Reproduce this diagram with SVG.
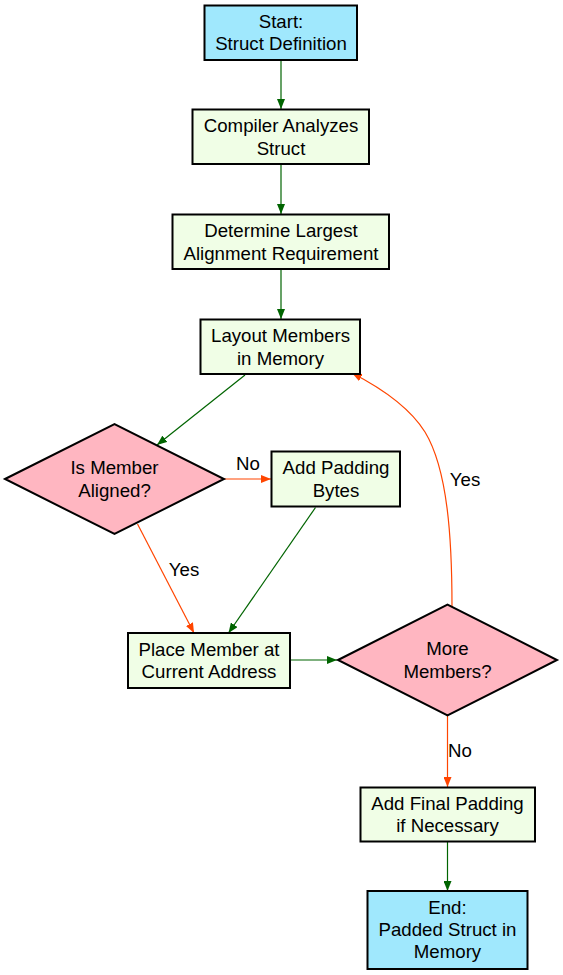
<svg xmlns="http://www.w3.org/2000/svg" width="563" height="975" viewBox="0 0 563 975">
<style>
.t{font-family:"Liberation Sans",Arial,sans-serif;font-size:18.67px;fill:#000;text-anchor:middle}
.term{fill:#A0E8FD;stroke:#000;stroke-width:2}
.proc{fill:#F0FEE6;stroke:#000;stroke-width:2}
.dec{fill:#FFB6C1;stroke:#000;stroke-width:2}
.eg{fill:none;stroke:#006400;stroke-width:1.2}
.eo{fill:none;stroke:#FF4500;stroke-width:1.2}
</style>
<defs>
<marker id="ag" markerUnits="userSpaceOnUse" viewBox="0 0 10 8" markerWidth="10" markerHeight="8" refX="10" refY="4" orient="auto"><path d="M0,0 L10,4 L0,8 z" fill="#006400"/></marker>
<marker id="ao" markerUnits="userSpaceOnUse" viewBox="0 0 10 8" markerWidth="10" markerHeight="8" refX="10" refY="4" orient="auto"><path d="M0,0 L10,4 L0,8 z" fill="#FF4500"/></marker>
</defs>
<rect width="563" height="975" fill="#fff"/>
<g id="edges">
<path class="eg" d="M281,61 L281,109" marker-end="url(#ag)"/>
<path class="eg" d="M281,165 L281,214" marker-end="url(#ag)"/>
<path class="eg" d="M281,270 L281,319" marker-end="url(#ag)"/>
<path class="eg" d="M245,375 L157,445" marker-end="url(#ag)"/>
<path class="eo" d="M224,479 L271,479" marker-end="url(#ao)"/>
<text class="t" x="248" y="470">No</text>
<path class="eo" d="M137.5,524 L194,633" marker-end="url(#ao)"/>
<text class="t" x="184" y="576">Yes</text>
<path class="eg" d="M315.5,507.5 L228.5,633" marker-end="url(#ag)"/>
<path class="eg" d="M290,660 L337,660" marker-end="url(#ag)"/>
<path class="eo" d="M452,607 C452,540 448,470 425,432 C410,408 385,390 352,373" marker-end="url(#ao)"/>
<text class="t" x="465" y="486">Yes</text>
<path class="eo" d="M447.5,716 L447.5,787" marker-end="url(#ao)"/>
<text class="t" x="460" y="757">No</text>
<path class="eg" d="M447.5,842 L447.5,891" marker-end="url(#ag)"/>
</g>
<g id="start">
<rect class="term" x="204.5" y="5.5" width="152.5" height="54.5"/>
<text class="t" x="281" y="27.5">Start:</text>
<text class="t" x="281" y="50">Struct Definition</text>
</g>
<g id="analyze">
<rect class="proc" x="192.5" y="109.5" width="176.5" height="54.5"/>
<text class="t" x="281" y="132.3">Compiler Analyzes</text>
<text class="t" x="281" y="154.5">Struct</text>
</g>
<g id="largest">
<rect class="proc" x="172.5" y="214.5" width="216.5" height="54.5"/>
<text class="t" x="281" y="237.3">Determine Largest</text>
<text class="t" x="281" y="259.5">Alignment Requirement</text>
</g>
<g id="layout">
<rect class="proc" x="200.5" y="319.5" width="159.5" height="54.5"/>
<text class="t" x="280.5" y="342.3">Layout Members</text>
<text class="t" x="280.5" y="364.5">in Memory</text>
</g>
<g id="aligned">
<polygon class="dec" points="5,479 114.5,424 224,479 114.5,534"/>
<text class="t" x="114.5" y="474">Is Member</text>
<text class="t" x="114.5" y="496.5">Aligned?</text>
</g>
<g id="padding">
<rect class="proc" x="271.5" y="451.5" width="128.5" height="55"/>
<text class="t" x="336" y="474">Add Padding</text>
<text class="t" x="336" y="496.5">Bytes</text>
</g>
<g id="place">
<rect class="proc" x="128" y="633" width="162" height="55"/>
<text class="t" x="209" y="655.5">Place Member at</text>
<text class="t" x="209" y="678">Current Address</text>
</g>
<g id="more">
<polygon class="dec" points="338,660 447.5,604.5 557,660 447.5,715.5"/>
<text class="t" x="447.5" y="655">More</text>
<text class="t" x="447.5" y="677.5">Members?</text>
</g>
<g id="final">
<rect class="proc" x="360.5" y="787.5" width="174.5" height="54"/>
<text class="t" x="447.5" y="809.5">Add Final Padding</text>
<text class="t" x="447.5" y="832">if Necessary</text>
</g>
<g id="end">
<rect class="term" x="367.5" y="891" width="160" height="78"/>
<text class="t" x="447.5" y="913.6">End:</text>
<text class="t" x="447.5" y="936">Padded Struct in</text>
<text class="t" x="447.5" y="958.4">Memory</text>
</g>
</svg>
